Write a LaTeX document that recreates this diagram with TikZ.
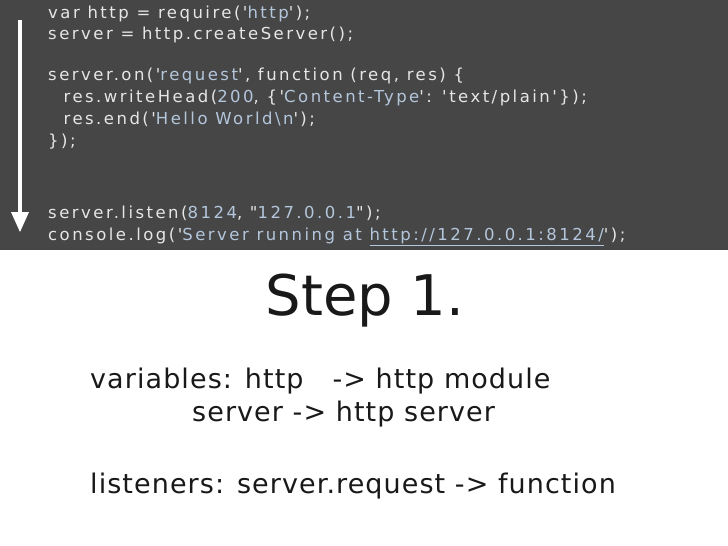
\documentclass[tikz,border=0pt]{standalone}
\usepackage{fontspec}
\setmainfont{DejaVu Sans}[Ligatures=ResetAll]
\newfontfamily\codefont{DejaVu Sans}[Ligatures=ResetAll,LetterSpace=15]
\newfontfamily\bigfont{DejaVu Sans}[Ligatures=ResetAll,LetterSpace=4]
\definecolor{band}{HTML}{464646}
\definecolor{codew}{HTML}{E6E6E6}
\definecolor{codeb}{HTML}{B4C6DC}
\newcommand\hl[1]{\textcolor{codeb}{#1}}
\begin{document}
\begin{tikzpicture}[x=1pt,y=-1pt,
  code/.style={anchor=base west,inner sep=0,text=codew,font=\codefont\fontsize{16.5}{16.5}\selectfont},
  big/.style={anchor=base west,inner sep=0,text=black!90,font=\bigfont\fontsize{27}{27}\selectfont}]
\useasboundingbox (0,0) rectangle (728,546);
\fill[white] (0,0) rectangle (728,546);
\fill[band] (0,0) rectangle (728,250);
\node[code] (l1) at (48,18) {var http = require('\hl{http}');};
\node[code] (l2) at (48,39) {server = http.createServer();};
\node[code] (l3) at (48,80) {server.on('\hl{request}', function (req, res) \{};
\node[code] (l4) at (48,102) {\ \ res.writeHead(\hl{200}, \{'\hl{Content-Type}': 'text/plain'\});};
\node[code] (l5) at (48,124) {\ \ res.end('\hl{Hello World\textbackslash n}');};
\node[code] (l6) at (48,146) {\});};
\node[code] (l7) at (48,218) {server.listen(\hl{8124}, "\hl{127.0.0.1}");};
\node[code] (l8) at (48,240) {console.log('\hl{Server running at \underline{http://127.0.0.1:8124/}}');};
\coordinate (a1) at (20,20);
\coordinate (a2) at (20,232);
\draw[white,line width=3.5pt] (a1) -- (20,214);
\fill[white] (a2) -- (11,212) -- (29,212) -- cycle;
\node[anchor=base,inner sep=0,text=black!90,font=\fontsize{56}{56}\selectfont] (step) at (365,315) {Step 1.};
\node[big] (v1) at (90,388) {variables: http\ \ \ -> http module};
\node[big] (v2) at (192,421) {server -> http server};
\node[big] (v3) at (90,493) {listeners: server.request -> function};
\end{tikzpicture}
\end{document}
